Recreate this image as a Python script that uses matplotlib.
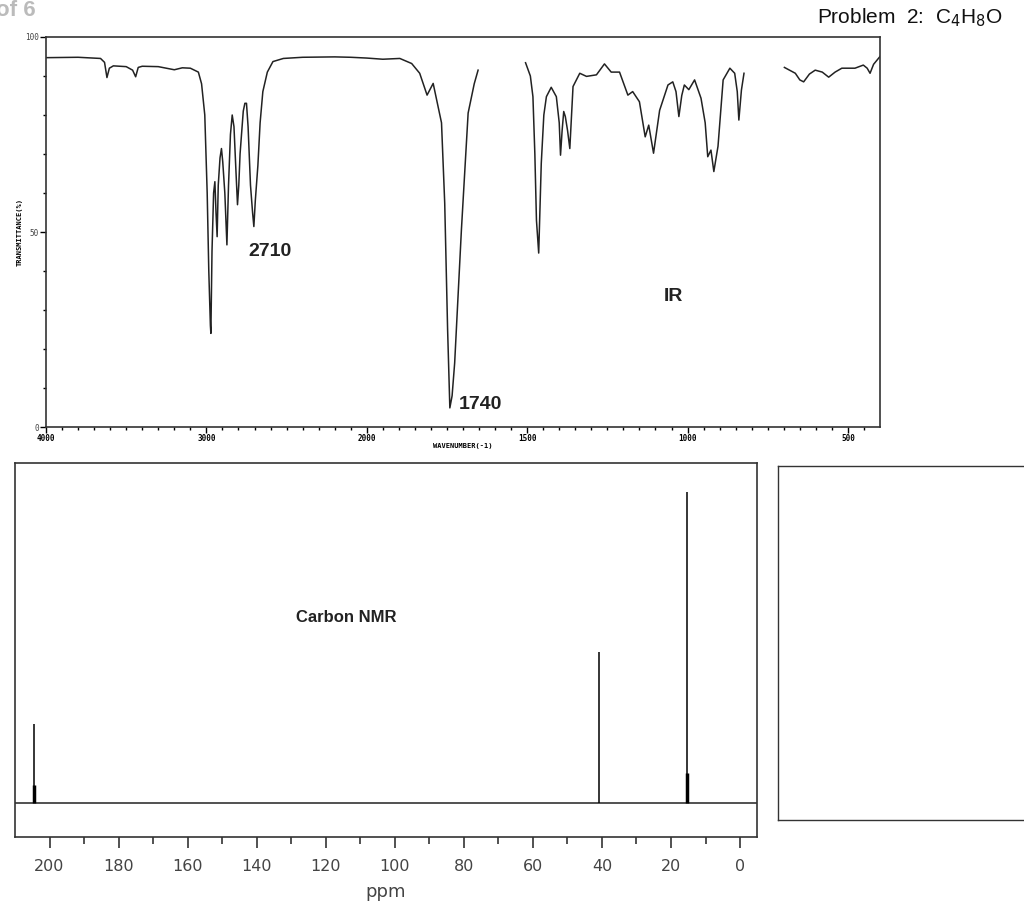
import numpy as np
import matplotlib
matplotlib.use("Agg")
import matplotlib.pyplot as plt
from matplotlib.ticker import FixedLocator

plt.rcParams['font.family'] = ['Liberation Sans', 'DejaVu Sans']

# IR segments (wavenumber cm-1, %T)
ir_seg1_wn = [4000, 3800, 3660, 3635, 3620, 3605, 3580, 3500, 3460, 3441, 3425, 3400, 3300, 3200, 3150, 3100, 3050, 3030,
              3010, 2995, 2985, 2975, 2972, 2965, 2955, 2947, 2940, 2933, 2926, 2915, 2906, 2898, 2885, 2872, 2862, 2850,
              2839, 2828, 2815, 2806, 2798, 2790, 2781, 2770, 2760, 2750, 2740, 2725, 2712, 2704, 2695, 2679, 2665, 2648,
              2620, 2585, 2520, 2400, 2200, 2100, 2000, 1950, 1897, 1860, 1835, 1812, 1793, 1767, 1757, 1748, 1741, 1734,
              1726, 1705, 1684, 1665, 1653]
ir_seg1_t = [94.7, 94.8, 94.5, 93.5, 89.6, 92.0, 92.6, 92.4, 91.5, 89.8, 92.2, 92.5, 92.4, 91.6, 92.1, 92.0, 91.0, 88.0,
             80.0, 60.0, 40.0, 26.0, 24.0, 45.0, 60.0, 62.9, 55.0, 48.8, 62.0, 69.0, 71.4, 68.0, 60.0, 46.7, 62.0, 75.0,
             80.0, 77.0, 65.0, 57.0, 62.0, 70.0, 75.0, 81.0, 83.0, 83.0, 77.0, 62.0, 55.0, 51.4, 58.0, 67.0, 78.0, 86.0,
             91.0, 93.7, 94.5, 94.8, 94.9, 94.8, 94.6, 94.3, 94.5, 93.2, 90.7, 85.1, 88.1, 78.0, 57.4, 25.0, 4.9, 8.0,
             16.4, 50.5, 80.5, 88.0, 91.5]
ir_seg2_wn = [1505, 1490, 1482, 1476, 1471, 1464, 1456, 1448, 1440, 1425, 1409, 1400, 1396, 1391, 1386, 1381, 1374, 1367,
              1357, 1336, 1315, 1284, 1259, 1238, 1212, 1186, 1171, 1150, 1132, 1121, 1106, 1087, 1061, 1046, 1036, 1027,
              1018, 1010, 996, 978, 958, 945, 937, 927, 918, 905, 889, 868, 853, 845, 840, 832, 824]
ir_seg2_t = [93.4, 90.0, 84.7, 70.0, 53.0, 44.6, 67.6, 80.0, 84.7, 87.1, 84.7, 78.0, 69.7, 76.0, 80.9, 79.6, 76.0, 71.4,
             87.3, 90.7, 89.9, 90.3, 93.1, 91.0, 91.0, 85.1, 86.0, 83.4, 74.4, 77.4, 70.2, 81.2, 87.7, 88.5, 86.0, 79.6,
             85.0, 87.7, 86.5, 89.0, 84.3, 78.0, 69.3, 71.0, 65.5, 72.0, 89.0, 92.0, 90.7, 86.0, 78.7, 86.4, 90.7]
ir_seg3_wn = [698, 664, 650, 638, 620, 602, 580, 560, 540, 519, 478, 452, 440, 431, 420, 400]
ir_seg3_t = [92.2, 90.7, 89.0, 88.5, 90.5, 91.5, 91.0, 89.7, 91.0, 92.0, 92.0, 92.8, 92.0, 90.7, 93.0, 95.0]

# Carbon NMR peaks (ppm, relative height)
nmr_ppm = [204.6, 40.9, 15.5]
nmr_height = [79, 151, 311]
nmr_sat_ppm = [204.6, 15.5]
nmr_sat_height = [18, 30]

ir_xticks = [4000, 3000, 2000, 1500, 1000, 500]
ir_yticks = [0, 50, 100]
nmr_xticks = list(range(0, 201, 20))


def fwd(x):
    x = np.asarray(x, dtype=float)
    return np.where(x <= 2000, x, 2000 + (x - 2000) / 2)


def inv(y):
    y = np.asarray(y, dtype=float)
    return np.where(y <= 2000, y, 2000 + (y - 2000) * 2)


fig = plt.figure(figsize=(10.24, 9.21), dpi=100)

# IR
ax = fig.add_axes([46 / 1024, 1 - 427 / 921, 834 / 1024, 390 / 921])
ax.set_xscale('function', functions=(fwd, inv))
for wn, t in [(ir_seg1_wn, ir_seg1_t), (ir_seg2_wn, ir_seg2_t), (ir_seg3_wn, ir_seg3_t)]:
    ax.plot(wn, t, color='#222222', lw=1.1)
ax.set_xlim(4000, 400)
ax.set_ylim(0, 100)
ax.xaxis.set_major_locator(FixedLocator(ir_xticks))
ax.set_xticklabels([str(v) for v in ir_xticks], fontsize=5.5, fontweight='bold', family='DejaVu Sans Mono')
minor = list(range(3900, 2000, -100)) + list(range(1950, 400, -50))
ax.xaxis.set_minor_locator(FixedLocator(minor))
ax.yaxis.set_major_locator(FixedLocator(ir_yticks))
ax.set_yticklabels([str(v) for v in ir_yticks], fontsize=5.5, color='#444444', family='DejaVu Sans Mono')
ax.yaxis.set_minor_locator(FixedLocator(list(range(10, 100, 10))))
ax.tick_params(axis='both', which='major', direction='out', length=4, width=1, pad=1)
ax.tick_params(axis='both', which='minor', direction='out', length=2.5, width=1)
for s in ax.spines.values():
    s.set_linewidth(1.2)
    s.set_color('#333333')
ax.set_xlabel('WAVENUMBER(-1)', fontsize=5, fontweight='bold', family='DejaVu Sans Mono', labelpad=0)
ax.set_ylabel('TRANSMITTANCE(%)', fontsize=5, fontweight='bold', family='DejaVu Sans Mono', labelpad=2)
ax.text(2740, 45, '2710', fontsize=14, fontweight='bold', color='#222222', ha='left', va='center')
ax.text(1712, 5.8, '1740', fontsize=14, fontweight='bold', color='#222222', ha='left', va='center')
ax.text(1075, 33.5, 'IR', fontsize=14, fontweight='bold', color='#222222', ha='left', va='center')

# NMR
ax2 = fig.add_axes([15 / 1024, 1 - 837 / 921, 742 / 1024, 374 / 921])
ax2.axhline(0, color='#333333', lw=1.2)
ax2.vlines(nmr_ppm, 0, nmr_height, color='black', lw=1.1)
ax2.vlines(nmr_sat_ppm, 0, nmr_sat_height, color='black', lw=2.5)
ax2.set_xlim(210.0, -4.9)
ax2.set_ylim(-34, 340)
ax2.set_yticks([])
ax2.xaxis.set_major_locator(FixedLocator(nmr_xticks))
ax2.xaxis.set_minor_locator(FixedLocator(list(range(10, 201, 20))))
ax2.set_xticklabels([str(v) for v in nmr_xticks], fontsize=11.5, color='#444444', family='DejaVu Sans')
ax2.tick_params(axis='x', which='major', direction='out', length=8, width=1.2, pad=8, color='#333333')
ax2.tick_params(axis='x', which='minor', direction='out', length=5, width=1.2, color='#333333')
for s in ax2.spines.values():
    s.set_linewidth(1.2)
    s.set_color('#333333')
ax2.set_xlabel('ppm', fontsize=13, color='#444444', labelpad=6, family='DejaVu Sans')
ax2.text(114, 185, 'Carbon NMR', fontsize=12, fontweight='bold', color='#222222', ha='center', va='center')

# empty box
ax3 = fig.add_axes([778 / 1024, 1 - 820 / 921, 260 / 1024, 354 / 921])
ax3.set_xticks([])
ax3.set_yticks([])
for s in ax3.spines.values():
    s.set_linewidth(1.0)
    s.set_color('#333333')

fig.text(1003 / 1024, 1 - 18 / 921, 'Problem  2:  C$_4$H$_8$O', fontsize=15, ha='right', va='center', color='#111111')
fig.text(36 / 1024, 1 - 10 / 921, 'of 6', fontsize=16, fontweight='bold', ha='right', va='center', color='#bbbbbb')

fig.savefig('out.png', dpi=100)
